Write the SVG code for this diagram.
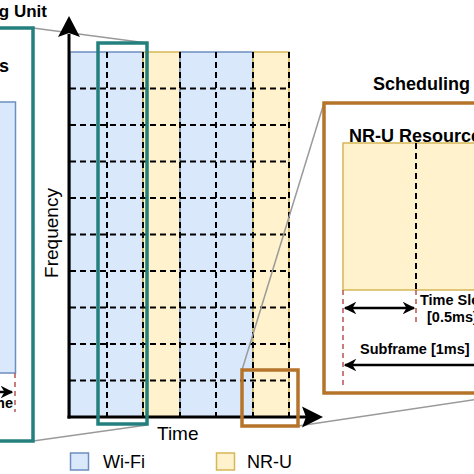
<svg xmlns="http://www.w3.org/2000/svg" width="474" height="474" viewBox="0 0 474 474">
<defs>
<style>
.wifi{fill:#dae8fc;stroke:#6c8ebf;stroke-width:1.5}
.nru{fill:#fff2cc;stroke:#d6b656;stroke-width:1.5}
.dash{stroke:#000;stroke-width:2;stroke-dasharray:6 4;fill:none}
.red{stroke:#b85450;stroke-width:1.5;stroke-dasharray:5 4;fill:none}
.gray{stroke:#9a9a9a;stroke-width:1.5;fill:none}
.teal{fill:none;stroke:#23807f;stroke-width:3.5}
.brown{fill:none;stroke:#b5742a;stroke-width:3.5}
.axis{stroke:#000;stroke-width:3;fill:none}
.b{font-family:"Liberation Sans",Arial,sans-serif;font-weight:bold;fill:#000}
.n{font-family:"Liberation Sans",Arial,sans-serif;fill:#000}
</style>
<marker id="ah" viewBox="0 0 10 10" refX="9" refY="5" markerWidth="5" markerHeight="5" orient="auto-start-reverse" markerUnits="strokeWidth">
<path d="M0,0 L10,5 L0,10 L3,5 z" fill="#000"/>
</marker>
</defs>
<rect width="474" height="474" fill="#fff"/>

<g id="grid">
<rect class="wifi" x="70" y="52" width="73" height="365"/>
<rect class="nru" x="143" y="52" width="37" height="365"/>
<rect class="wifi" x="180" y="52" width="73" height="365"/>
<rect class="nru" x="253" y="52" width="36" height="365"/>
<g class="dash">
<line x1="107" y1="52" x2="107" y2="417"/>
<line x1="143" y1="52" x2="143" y2="417"/>
<line x1="180" y1="52" x2="180" y2="417"/>
<line x1="216" y1="52" x2="216" y2="417"/>
<line x1="253" y1="52" x2="253" y2="417"/>
<line x1="289" y1="52" x2="289" y2="417"/>
<line x1="70" y1="88.5" x2="289" y2="88.5"/>
<line x1="70" y1="125" x2="289" y2="125"/>
<line x1="70" y1="161.5" x2="289" y2="161.5"/>
<line x1="70" y1="198" x2="289" y2="198"/>
<line x1="70" y1="234.5" x2="289" y2="234.5"/>
<line x1="70" y1="271" x2="289" y2="271"/>
<line x1="70" y1="307.5" x2="289" y2="307.5"/>
<line x1="70" y1="344" x2="289" y2="344"/>
<line x1="70" y1="380.5" x2="289" y2="380.5"/>
</g>
</g>

<g id="connectors">
<line class="gray" x1="33" y1="28" x2="147" y2="43"/>
<line class="gray" x1="33" y1="441" x2="147" y2="425"/>
<line class="gray" x1="324" y1="103" x2="242" y2="370"/>
<line class="gray" x1="298" y1="426" x2="520" y2="393"/>
</g>

<g id="axes">
<line class="axis" x1="69" y1="418.5" x2="69" y2="34"/>
<path d="M69,16 L80,37 L69,33 L58,37 z" fill="#000"/>
<line class="axis" x1="67.5" y1="417" x2="306" y2="417"/>
<path d="M323,415.5 L302,426 L306,415.5 L302,405 z" fill="#000" transform="translate(0,1.5)"/>
<text class="n" font-size="19" transform="rotate(-90 58 233)" x="58" y="233" text-anchor="middle">Frequency</text>
<text class="n" font-size="19" x="157" y="440">Time</text>
</g>

<g id="zoom-boxes">
<rect class="teal" x="98" y="43" width="49" height="381"/>
<rect class="brown" x="242" y="370" width="56" height="56"/>
</g>

<g id="left-panel">
<rect class="teal" x="-10" y="28" width="43" height="413"/>
<text class="b" font-size="17" x="47" y="17" text-anchor="end">Scheduling Unit</text>
<text class="b" font-size="18" x="9" y="72" text-anchor="end">Wi-Fi Resources</text>
<rect class="wifi" x="-10" y="102" width="25.5" height="271"/>
<line class="red" x1="15" y1="373" x2="15" y2="412"/>
<line x1="-10" y1="392" x2="12" y2="392" stroke="#000" stroke-width="2.5" marker-end="url(#ah)"/>
<text class="b" font-size="14.5" x="13" y="408" text-anchor="end">Time</text>
</g>

<g id="right-panel">
<rect class="brown" x="324" y="103" width="200" height="290"/>
<text class="b" font-size="18" x="373" y="90">Scheduling Unit</text>
<text class="b" font-size="18" x="349" y="142">NR-U Resources</text>
<rect class="nru" x="343" y="143" width="160" height="147"/>
<line class="dash" x1="416" y1="143" x2="416" y2="290"/>
<line class="red" x1="416" y1="290" x2="416" y2="326"/>
<line class="red" x1="343" y1="290" x2="343" y2="385"/>
<line x1="345" y1="308" x2="414" y2="308" stroke="#000" stroke-width="2.5" marker-start="url(#ah)" marker-end="url(#ah)"/>
<text class="b" font-size="14.5" x="420" y="305">Time Slot</text>
<text class="b" font-size="14.5" x="427" y="322">[0.5ms]</text>
<text class="b" font-size="14.5" x="360" y="354">Subframe [1ms]</text>
<line x1="345" y1="365" x2="490" y2="365" stroke="#000" stroke-width="2.5" marker-start="url(#ah)"/>
</g>

<g id="legend">
<rect class="wifi" x="70.5" y="453" width="18" height="17"/>
<text class="n" font-size="18" x="103" y="468">Wi-Fi</text>
<rect class="nru" x="216.5" y="453" width="18" height="17"/>
<text class="n" font-size="18" x="247" y="468">NR-U</text>
</g>
</svg>
